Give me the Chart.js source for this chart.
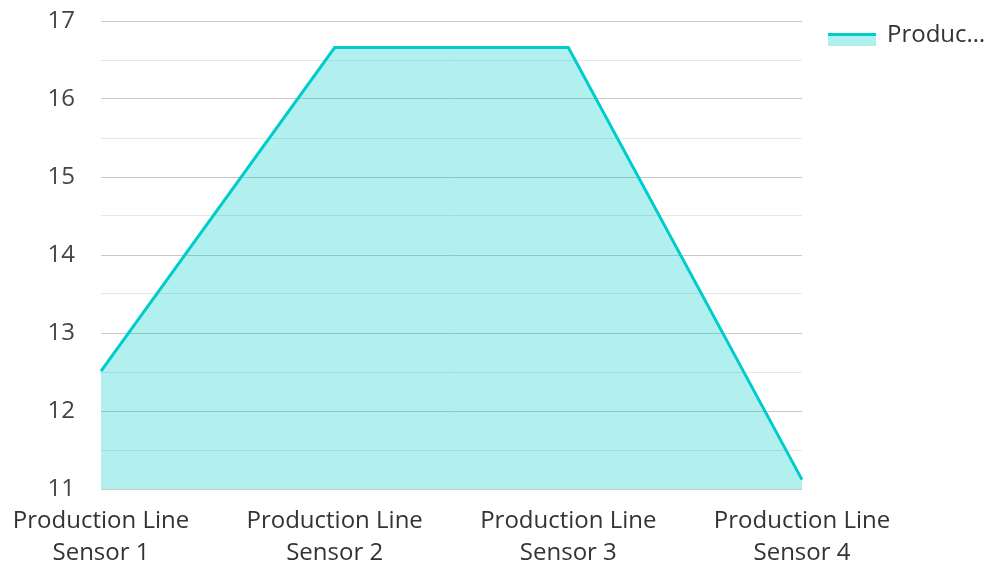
<!DOCTYPE html>
<html><head><meta charset="utf-8">
<script src="https://cdn.jsdelivr.net/npm/chart.js@4/dist/chart.umd.min.js"></script>
<style>html,body{margin:0;padding:0;background:#fff}#wrap{width:989px;height:561px}</style>
</head><body><div id="wrap"><canvas id="c" width="989" height="561"></canvas></div>
<script>
const categories = [["Production Line","Sensor 1"],["Production Line","Sensor 2"],["Production Line","Sensor 3"],["Production Line","Sensor 4"]];
const seriesName = "Production Line Sensors";
const legendText = "Produc…";
const values = [12.51, 16.66, 16.66, 11.12];
const yMin = 11, yMax = 17;

const lineColor = "#00cccc";
const fillColor = "rgba(0,204,204,0.30)";
const font = "'Open Sans', sans-serif";

const legendPlugin = {
  id: 'customLegend',
  afterDraw(chart) {
    const ctx = chart.ctx;
    ctx.save();
    ctx.fillStyle = fillColor;
    ctx.fillRect(828, 34, 48, 12);
    ctx.strokeStyle = lineColor;
    ctx.lineWidth = 3;
    ctx.beginPath(); ctx.moveTo(828, 34.5); ctx.lineTo(876, 34.5); ctx.stroke();
    ctx.fillStyle = "#333";
    ctx.font = "24px " + font;
    ctx.textBaseline = "middle";
    ctx.fillText(legendText, 887, 35);
    ctx.restore();
  }
};

new Chart(document.getElementById('c'), {
  type: 'line',
  data: {
    labels: categories,
    datasets: [{
      label: seriesName,
      data: values,
      borderColor: lineColor,
      backgroundColor: fillColor,
      borderWidth: 3,
      fill: 'start',
      tension: 0,
      pointRadius: 0,
      pointHoverRadius: 0
    }]
  },
  options: {
    responsive: false,
    animation: false,
    layout: { padding: { left: 0, right: 187, top: 21, bottom: 0 } },
    plugins: { legend: { display: false }, tooltip: { enabled: false } },
    scales: {
      x: {
        offset: false,
        grid: { display: false },
        border: { display: false },
        afterFit: (s) => { s.height = 72; s.paddingLeft = 0; s.paddingRight = 0; },
        ticks: { color: "#333", font: { family: font, size: 24, lineHeight: 1.33 }, maxRotation: 0, autoSkip: false, padding: 8 }
      },
      y: {
        min: yMin, max: yMax,
        border: { display: false },
        afterFit: (s) => { s.width = 101; s.paddingTop = 0; s.paddingBottom = 0; },
        grid: {
          drawTicks: false,
          color: (c) => (c.tick && Number.isInteger(c.tick.value)) ? "#c8c8c8" : "#e6e6e6",
          lineWidth: 1
        },
        ticks: {
          stepSize: 0.5,
          color: "#444",
          padding: 26,
          font: { family: font, size: 24 },
          callback: (v) => Number.isInteger(v) ? String(v) : ''
        }
      }
    }
  },
  plugins: [legendPlugin]
});
</script></body></html>
